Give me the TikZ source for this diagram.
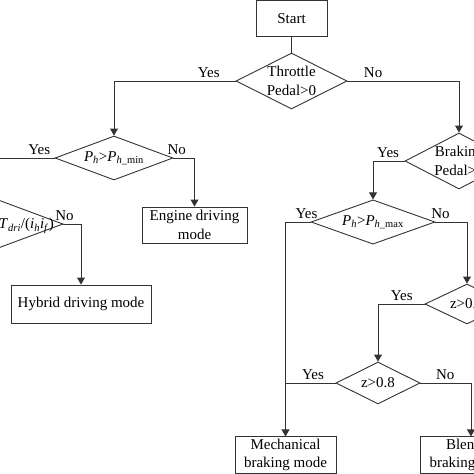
\documentclass[tikz,border=0pt]{standalone}
\usepackage{fontspec}
\setmainfont{Liberation Serif}
\usetikzlibrary{shapes,arrows}

\begin{document}
\begin{tikzpicture}[x=1pt,y=-1pt]

\tikzstyle{modebox} = [draw=black!80, line width=0.9pt, fill=white, align=center,
inner sep=2pt, font=\fontsize{15}{18.5}\selectfont]
\tikzstyle{decision} = [diamond, draw=black!80, line width=0.9pt, align=center,
inner sep=0pt, shape aspect=2, font=\fontsize{15}{18.5}\selectfont]
\tikzstyle{flow} = [draw=black!80, line width=0.9pt, -triangle 60]
\tikzstyle{plain} = [draw=black!80, line width=0.9pt]
\tikzstyle{lbl} = [above, inner sep=3pt, font=\fontsize{15}{18}\selectfont]

\useasboundingbox (0,0) rectangle (474,474);
\clip (0,0) rectangle (474,474);

\node [modebox, minimum width=71, minimum height=36] (start) at (291.5,18.5) {Start};

\node [decision, minimum width=111, minimum height=56] (throttle) at (291.5,81) {Throttle\\Pedal>0};
\node [decision, minimum width=118, minimum height=44] (phmin) at (114,158)
{\textit{P}\textsubscript{\textit{h}}>\textit{P}\textsubscript{\textit{h}\_min}};
\node [modebox, minimum width=105, minimum height=36] (engine) at (194.5,225) {Engine driving\\mode};

\node [decision, minimum width=134, minimum height=50] (tdri) at (-4,224) {};
\node [anchor=east, inner sep=0pt, font=\fontsize{15}{18}\selectfont] (tdritext) at (54,226)
{\textit{T}\textsubscript{\textit{dri}}/(\textit{i}\textsubscript{\textit{h}}\textit{i}\textsubscript{\textit{f}})};
\node [modebox, minimum width=140, minimum height=38] (hybrid) at (81,304) {Hybrid driving mode};

\node [decision, minimum width=108, minimum height=56] (braking) at (459,161) {Braking\\Pedal>0};
\node [decision, minimum width=124, minimum height=42] (phmax) at (373,222)
{\textit{P}\textsubscript{\textit{h}}>\textit{P}\textsubscript{\textit{h}\_max}};
\node [decision, minimum width=84, minimum height=40] (zlow) at (467,304) {z>0.1};
\node [decision, minimum width=84, minimum height=42] (zhigh) at (378,383) {z>0.8};

\node [modebox, minimum width=101, minimum height=36] (mech) at (285.5,455) {Mechanical\\braking mode};
\node [modebox, minimum width=102, minimum height=36] (blend) at (471,455) {Blended\\braking mode};

\coordinate (mechout) at (285.5,490);
\coordinate (blendout) at (471,490);

\draw [plain] (start) -- (throttle);

\draw [flow] (throttle.west) -| node [lbl, pos=0.11] {Yes} (phmin.north);
\draw [flow] (throttle.east) -| node [lbl, pos=0.115] {No} (braking.north);

\draw [flow] (phmin.west) -| node [lbl, pos=0.13] {Yes} (tdri.north);
\draw [flow] (phmin.east) -| node [lbl, pos=0.08] {No} (engine.north);

\draw [flow] (tdri.east) -| node [lbl, pos=0.03] {No} (hybrid.north);

\draw [flow] (braking.west) -| node [lbl, pos=0.26] {Yes} (phmax.north);
\draw [flow] (phmax.west) -| node [lbl, pos=0.08] {Yes} (mech.north);
\draw [flow] (phmax.east) -| node [lbl, pos=0.08] {No} (zlow.north);

\draw [flow] (zlow.west) -| node [lbl, pos=0.245] {Yes} (zhigh.north);
\draw [plain] (zhigh.west) -- node [lbl, pos=0.45] {Yes} (zhigh.west -| mech.north);
\draw [flow] (zhigh.east) -| node [lbl, pos=0.245] {No} (blend.north);

\draw [plain] (mech.south) -- (mechout);
\draw [plain] (blend.south) -- (blendout);

\end{tikzpicture}
\end{document}
